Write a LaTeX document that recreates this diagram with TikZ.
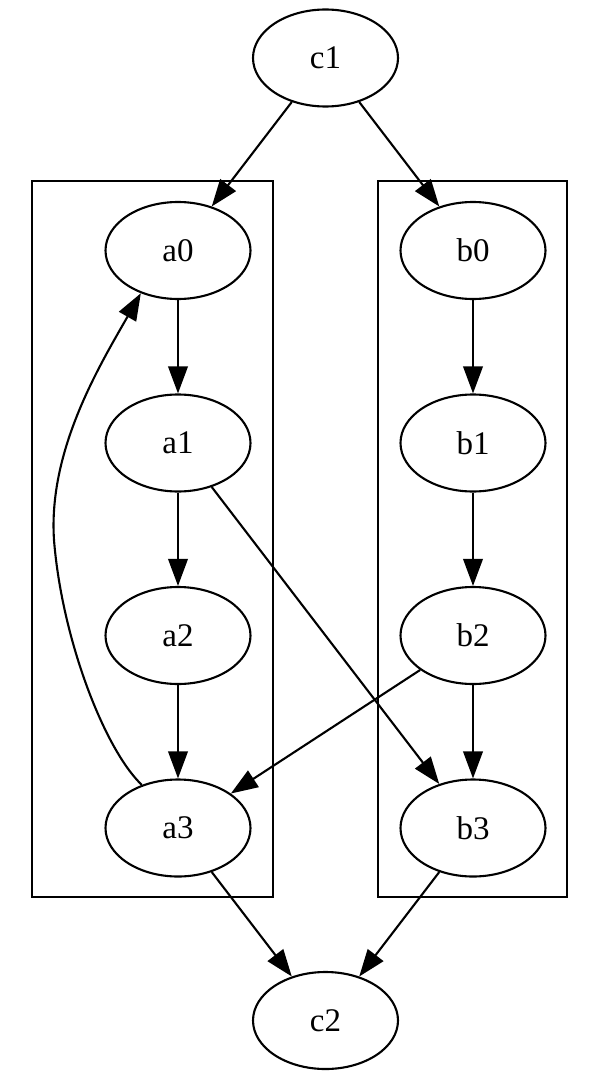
\documentclass[tikz,border=0pt]{standalone}
\usepackage{fontspec}
\setmainfont{Liberation Serif}
\usetikzlibrary{positioning,shapes.geometric,arrows.meta,calc}

\begin{document}
\begin{tikzpicture}[node distance=93.4pt, line width=2.1pt, >={Triangle[length=27pt,width=19.5pt]},
    every node/.style={draw, ellipse, minimum width=145pt, minimum height=97pt, inner sep=0pt, font=\fontsize{33}{40}\selectfont}]
    \useasboundingbox (0,0) rectangle (598pt,-1078pt);

    \node (c1) at (325.5pt,-58pt) {c1};
    \node (a0) [below=of c1, xshift=-147.5pt] {a0};
    \node (a1) [below=of a0] {a1};
    \node (a2) [below=of a1] {a2};
    \node (a3) [below=of a2] {a3};
    \node (b0) [right=147.9pt of a0] {b0};
    \node (b1) [below=of b0] {b1};
    \node (b2) [below=of b1] {b2};
    \node (b3) [below=of b2] {b3};
    \node (c2) [below=of a3, xshift=147.5pt] {c2};

    % clusters
    \draw ($(a0.north -| a0.west)+(-72.5pt,19.5pt)$) rectangle ($(a3.south -| a3.east)+(21.5pt,-19.5pt)$);
    \draw ($(b0.north -| b0.west)+(-21.5pt,19.5pt)$) rectangle ($(b3.south -| b3.east)+(20.5pt,-19.5pt)$);

    \draw[->] (c1) -- (a0);
    \draw[->] (c1) -- (b0);
    \draw[->] (a0) -- (a1);
    \draw[->] (a1) -- (a2);
    \draw[->] (a2) -- (a3);
    \draw[->] (b0) -- (b1);
    \draw[->] (b1) -- (b2);
    \draw[->] (b2) -- (b3);
    \draw[->] (a1) -- (b3);
    \draw[->] (b2) -- (a3);
    \draw[->] (a3) -- (c2);
    \draw[->] (b3) -- (c2);
    \draw[->] (a3.130) .. controls (105pt,-750pt) and (62pt,-640pt) .. (54pt,-540pt)
        .. controls (48pt,-450pt) and (100pt,-365pt) .. (a0.229);
\end{tikzpicture}
\end{document}
